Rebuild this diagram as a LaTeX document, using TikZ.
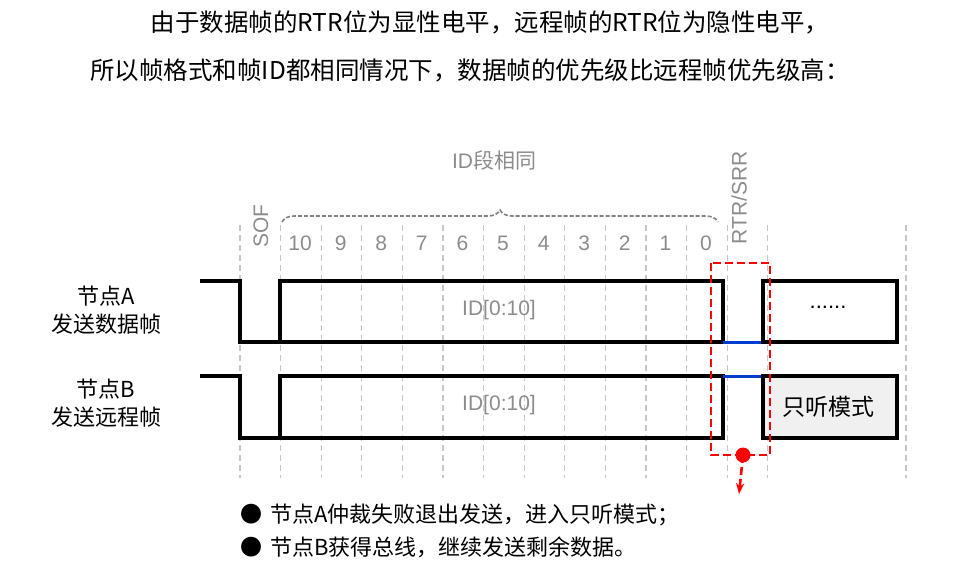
\documentclass[tikz,border=0pt]{standalone}
\usepackage{fontspec}
\setmainfont{Liberation Sans}
\newfontfamily\cjk{Noto Sans CJK SC}
\usetikzlibrary{arrows.meta,decorations.pathreplacing}
\begin{document}
\begin{tikzpicture}[x=1pt,y=-1pt,
  grid/.style={gray!45,dash pattern=on 6pt off 4pt,line width=1.3pt},
  wave/.style={black,line width=3.6pt},
  lbl/.style={font=\cjk\fontsize{22}{28}\selectfont,align=center,inner sep=0pt},
  num/.style={text=gray!90,font=\fontsize{21}{24}\selectfont,inner sep=0pt},
  redd/.style={red,dash pattern=on 8pt off 4pt,line width=2.6pt}]
\useasboundingbox (0,0) rectangle (976,576);
\node[lbl,font=\cjk\fontsize{24.5}{28}\selectfont] (t1) at (490,22) {由于数据帧的RTR位为显性电平，远程帧的RTR位为隐性电平，};
\node[lbl,font=\cjk\fontsize{24.5}{28}\selectfont] (t2) at (470,70) {所以帧格式和帧ID都相同情况下，数据帧的优先级比远程帧优先级高：};
% grid
\foreach \i in {0,...,13} \draw[grid] ({240+\i*40.6},225) -- ({240+\i*40.6},478);
\draw[grid] (906,225) -- (906,478);
% numbers
\foreach \n [count=\k from 0] in {10,9,8,7,6,5,4,3,2,1,0}
  \node[num] (n\k) at ({300+\k*40.6},243) {\n};
\node[num,rotate=90] (sof) at (261,226) {SOF};
\node[num,rotate=90] (rtr) at (739,198) {RTR/SRR};
\draw[gray,dash pattern=on 4pt off 2pt,line width=1.6pt,decorate,decoration={brace,amplitude=12pt}] (282,222) -- (718,222);
\node[num] (idsame) at (494,160) {ID\cjk 段相同};
% wave A
\draw[wave] (200,281) -- (240,281) -- (240,342) -- (280,342);
\draw[wave] (280,281) rectangle (723,342);
\node[num] (ida) at (499,310) {ID[0:10]};
\draw[blue!70!cyan!80!black,line width=3pt] (723,342) -- (763,342);
\draw[wave] (763,281) rectangle (897,342);
\node[font=\fontsize{22}{24}\selectfont] (dots) at (828,307) {......};
% wave B
\draw[wave] (200,376) -- (240,376) -- (240,438) -- (280,438);
\draw[wave] (280,376) rectangle (723,438);
\node[num] (idb) at (499,405) {ID[0:10]};
\draw[blue!70!cyan!80!black,line width=3pt] (723,376) -- (763,376);
\draw[wave,fill=gray!12] (763,376) rectangle (897,438);
\node[lbl,font=\cjk\fontsize{23}{28}\selectfont] (listen) at (828,407) {只听模式};
% labels
\node[lbl] (la) at (106,310) {节点A\\发送数据帧};
\node[lbl] (lb) at (106,403) {节点B\\发送远程帧};
% red
\draw[redd] (711,263) rectangle (770,455);
\fill[red] (743,455) circle (7.5pt);
\coordinate (dot) at (743,455);
\coordinate (arr) at (739,494);
\draw[redd,-{Stealth[length=11pt]}] (dot) -- (arr);
% bullets
\node[lbl,anchor=west] (b1) at (240,515) {●\hspace{8pt}节点A仲裁失败退出发送，进入只听模式；};
\node[lbl,anchor=west] (b2) at (240,547) {●\hspace{8pt}节点B获得总线，继续发送剩余数据。};
\end{tikzpicture}
\end{document}
